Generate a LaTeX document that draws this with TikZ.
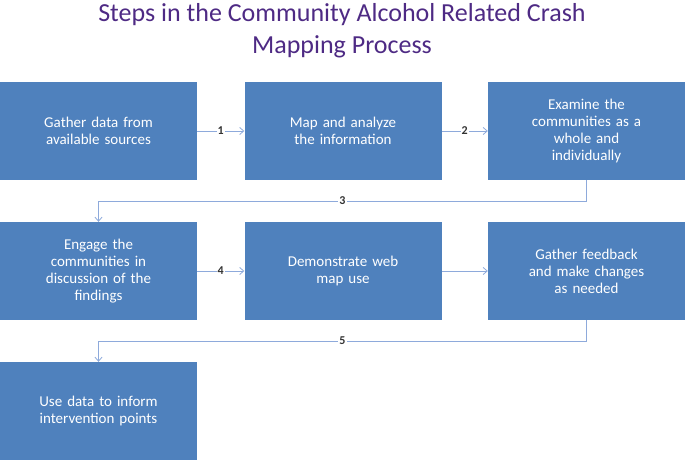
\documentclass[tikz,border=0pt]{standalone}
\usepackage{fontspec}
\setmainfont{Carlito}
\usetikzlibrary{arrows.meta}
\definecolor{boxc}{HTML}{4F81BD}
\definecolor{linec}{HTML}{8EAADB}
\definecolor{titc}{HTML}{4E2A84}
\begin{document}
\begin{tikzpicture}[x=1pt,y=-1pt,
 box/.style={fill=boxc,draw=none,minimum width=197pt,minimum height=98pt,text width=170pt,align=center,text=white,font=\fontsize{15}{17}\selectfont,inner sep=0pt},
 conn/.style={draw=linec,line width=0.8pt,-{Straight Barb[length=4pt,width=7pt]}},
 lab/.style={fill=white,inner sep=1pt,font=\fontsize{12}{14}\selectfont\bfseries,text=black!80}]
\useasboundingbox (0,0) rectangle (685,460);
\node[font=\fontsize{26}{32}\selectfont,text=titc,align=center] (t) at (342,31) {Steps in the Community Alcohol Related Crash\\Mapping Process};
\node[box] (b1) at (98.5,131) {Gather data from\\available sources};
\node[box] (b2) at (343,131) {Map and analyze\\the information};
\node[box] (b3) at (586.5,131) {Examine the\\communities as a\\whole and\\individually};
\node[box] (b4) at (98.5,271) {Engage the\\communities in\\discussion of the\\findings};
\node[box] (b5) at (343,271) {Demonstrate web\\map use};
\node[box] (b6) at (586.5,271) {Gather feedback\\and make changes\\as needed};
\node[box] (b7) at (98.5,411) {Use data to inform\\intervention points};
\draw[conn] (b1) -- node[lab]{1} (b2);
\draw[conn] (b2) -- node[lab]{2} (b3);
\draw[conn] (b4) -- node[lab]{4} (b5);
\draw[conn] (b5) -- (b6);
\coordinate (c3a) at (586.5,201); \coordinate (c3b) at (98.5,201);
\draw[conn] (b3.south) -- (c3a) -- node[lab,pos=0.5]{3} (c3b) -- (b4.north);
\coordinate (c5a) at (586.5,341); \coordinate (c5b) at (98.5,341);
\draw[conn] (b6.south) -- (c5a) -- node[lab,pos=0.5]{5} (c5b) -- (b7.north);
\end{tikzpicture}
\end{document}
